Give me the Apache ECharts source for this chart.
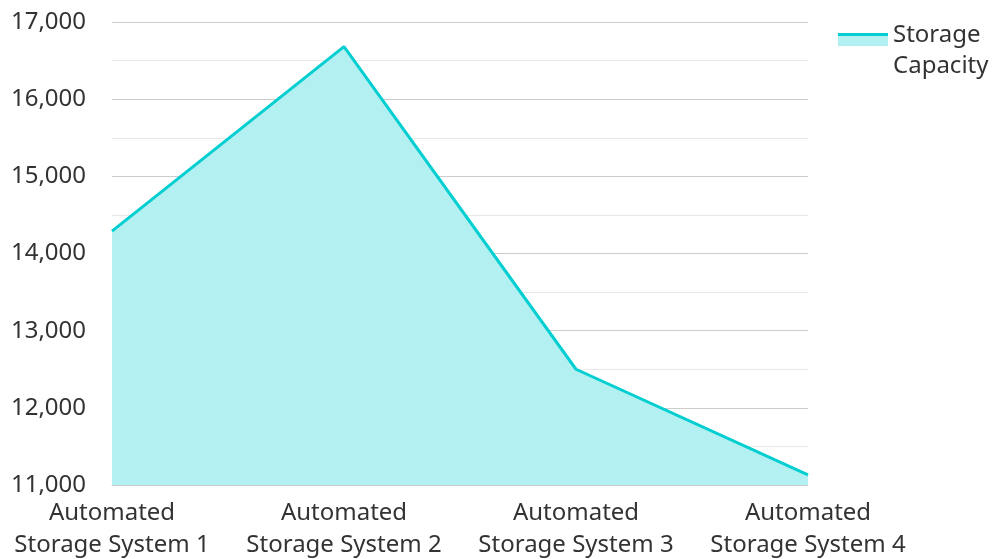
<!DOCTYPE html>
<html>
<head>
<meta charset="utf-8">
<script src="https://cdn.jsdelivr.net/npm/echarts@6/dist/echarts.min.js"></script>
<style>html,body{margin:0;padding:0;background:#fff}#c{width:994px;height:559px}</style>
</head>
<body>
<div id="c"></div>
<script>
const categories = ['Automated\nStorage System 1', 'Automated\nStorage System 2', 'Automated\nStorage System 3', 'Automated\nStorage System 4'];
const seriesName = 'Storage Capacity';
const capacity = [14290, 16680, 12500, 11130];
const yMin = 11000, yMax = 17000, yStep = 1000;

const lineColor = '#00CED1';
const fillColor = '#b3f0f1';
const font = 'Noto Sans';

const chart = echarts.init(document.getElementById('c'));
chart.setOption({
  animation: false,
  textStyle: { fontFamily: font },
  grid: { left: 112, right: 186, top: 22, bottom: 74, containLabel: false, outerBoundsMode: 'none' },
  legend: {
    left: 833, top: 15,
    itemWidth: 50, itemHeight: 62, itemGap: 10,
    icon: 'rect',
    itemStyle: {
      color: new echarts.graphic.LinearGradient(0, 0, 0, 1, [
        { offset: 0, color: 'rgba(255,255,255,0)' }, { offset: 0.21, color: 'rgba(255,255,255,0)' },
        { offset: 0.21, color: lineColor }, { offset: 0.26, color: lineColor },
        { offset: 0.26, color: fillColor }, { offset: 0.42, color: fillColor },
        { offset: 0.42, color: 'rgba(255,255,255,0)' }, { offset: 1, color: 'rgba(255,255,255,0)' }
      ])
    },
    formatter: n => n.replace(' ', '\n'),
    textStyle: { fontFamily: font, fontSize: 24, color: '#333', lineHeight: 31 }
  },
  xAxis: {
    type: 'category',
    data: categories,
    boundaryGap: false,
    axisLine: { show: true, lineStyle: { color: '#ccc', width: 1 } },
    axisTick: { show: false },
    axisLabel: { fontFamily: font, fontSize: 24, color: '#333', lineHeight: 32, margin: 12, interval: 0 }
  },
  yAxis: {
    type: 'value',
    min: yMin, max: yMax, interval: yStep,
    axisLine: { show: false },
    axisTick: { show: false },
    axisLabel: { fontFamily: font, fontSize: 24, color: '#333', margin: 26,
      formatter: v => v.toLocaleString('en-US') },
    splitLine: { show: true, lineStyle: { color: '#cccccc', width: 1 } },
    minorTick: { show: false, splitNumber: 2 },
    minorSplitLine: { show: true, lineStyle: { color: '#e8e8e8', width: 1 } }
  },
  series: [{
    name: seriesName,
    type: 'line',
    data: capacity,
    symbol: 'none',
    lineStyle: { color: lineColor, width: 3 },
    itemStyle: { color: lineColor },
    areaStyle: { color: fillColor, opacity: 1 }
  }]
});
</script>
</body>
</html>
